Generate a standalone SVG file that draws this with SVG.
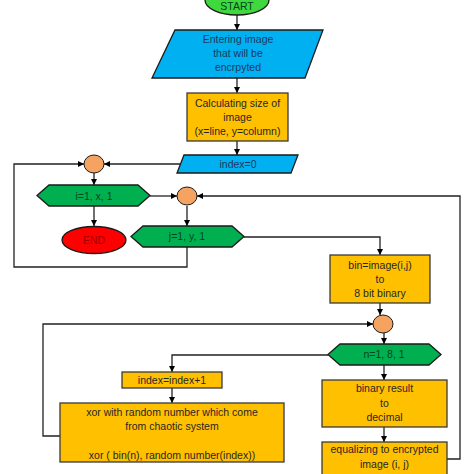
<svg xmlns="http://www.w3.org/2000/svg" width="474" height="474" viewBox="0 0 474 474">
<defs>
<marker id="ah" viewBox="0 0 10 10" refX="10" refY="5" markerWidth="6" markerHeight="6" markerUnits="userSpaceOnUse" orient="auto"><path d="M0,0 L10,5 L0,10 z" fill="#000"/></marker>
<style>
text{font-family:"Liberation Sans",Arial,sans-serif;font-size:10.5px;text-anchor:middle;dominant-baseline:central}
.blue{fill:#00B0F0;stroke:#1a1a1a;stroke-width:1.3}
.org{fill:#FFC000;stroke:#3a3a3a;stroke-width:1.3}
.grn{fill:#00B050;stroke:#1a1a1a;stroke-width:1.3}
.con{fill:#F4A460;stroke:#1a1a1a;stroke-width:1}
.tb{fill:#1F3864}
.to{fill:#262626}
.tg{fill:#00441E}
.c{fill:none;stroke:#222;stroke-width:1.3;marker-end:url(#ah)}
</style>
</defs>
<g id="connectors">
<path class="c" d="M237,15 V30"/>
<path class="c" d="M237,78 V93"/>
<path class="c" d="M237,141 V155"/>
<path class="c" d="M180,164 H104"/>
<path class="c" d="M187,247 V267 H14 V164 H84"/>
<path class="c" d="M94,173 V185"/>
<path class="c" d="M150,196 H177"/>
<path class="c" d="M94,206 V226"/>
<path class="c" d="M187,206 V226"/>
<path class="c" d="M244,237 H380 V255"/>
<path class="c" d="M447,459 H460 V196 H197"/>
<path class="c" d="M380,303 V315"/>
<path class="c" d="M60,436 H43 V324 H373"/>
<path class="c" d="M384,333 V344"/>
<path class="c" d="M328,355 H172 V372"/>
<path class="c" d="M172,388 V403"/>
<path class="c" d="M384,365 V380"/>
<path class="c" d="M384,427 V442"/>
</g>
<g id="start"><ellipse cx="237" cy="0" rx="32" ry="15" fill="#3FD83F" stroke="#1a1a1a" stroke-width="1.3"/><text x="237" y="6" class="tg">START</text></g>
<g id="input"><polygon class="blue" points="175,30 323,30 305,78 152,78"/><text x="238" y="39" class="tb">Entering image</text><text x="238" y="53" class="tb">that will be</text><text x="238" y="67" class="tb">encrpyted</text></g>
<g id="size"><rect class="org" x="187" y="93" width="101" height="48"/><text x="237.5" y="103" class="to">Calculating size of</text><text x="237.5" y="117" class="to">image</text><text x="237.5" y="131" class="to">(x=line, y=column)</text></g>
<g id="index0"><polygon class="blue" points="184,155 298,155 291,173 177,173"/><text x="238" y="164" class="tb">index=0</text></g>
<g id="c1"><ellipse class="con" cx="94" cy="164" rx="10" ry="9"/></g>
<g id="loopi"><polygon class="grn" points="37,195.5 49,185 138,185 150,195.5 138,206 49,206"/><text x="94" y="196" class="tg">i=1, x, 1</text></g>
<g id="c2"><ellipse class="con" cx="187" cy="196" rx="10" ry="9"/></g>
<g id="end"><ellipse cx="94" cy="240" rx="32" ry="13.5" fill="#FF0000" stroke="#1a1a1a" stroke-width="1.3"/><text x="94" y="240" fill="#A00000">END</text></g>
<g id="loopj"><polygon class="grn" points="131,236.5 143,226 232,226 244,236.5 232,247 143,247"/><text x="187" y="236" class="tg">j=1, y, 1</text></g>
<g id="bin"><rect class="org" x="330" y="255" width="100" height="48"/><text x="380" y="265" class="to">bin=image(i,j)</text><text x="380" y="279" class="to">to</text><text x="380" y="293" class="to">8 bit binary</text></g>
<g id="c3"><ellipse class="con" cx="383" cy="324" rx="10" ry="9"/></g>
<g id="loopn"><polygon class="grn" points="328,354.5 340,344 429,344 441,354.5 429,365 340,365"/><text x="384" y="354" class="tg">n=1, 8, 1</text></g>
<g id="inc"><rect class="org" x="122" y="372" width="100" height="16"/><text x="172" y="380" class="to">index=index+1</text></g>
<g id="xor"><rect class="org" x="60" y="403" width="224" height="59"/><text x="172" y="412" class="to">xor with random number which come</text><text x="172" y="426" class="to">from chaotic system</text><text x="172" y="455" class="to">xor ( bin(n), random number(index))</text></g>
<g id="todec"><rect class="org" x="322" y="380" width="125" height="47"/><text x="384.5" y="388" class="to">binary result</text><text x="384.5" y="403" class="to">to</text><text x="384.5" y="417" class="to">decimal</text></g>
<g id="equal"><rect class="org" x="322" y="442" width="125" height="40"/><text x="384.5" y="449" class="to">equalizing to encrypted</text><text x="384.5" y="464" class="to">image (i, j)</text></g>
</svg>
